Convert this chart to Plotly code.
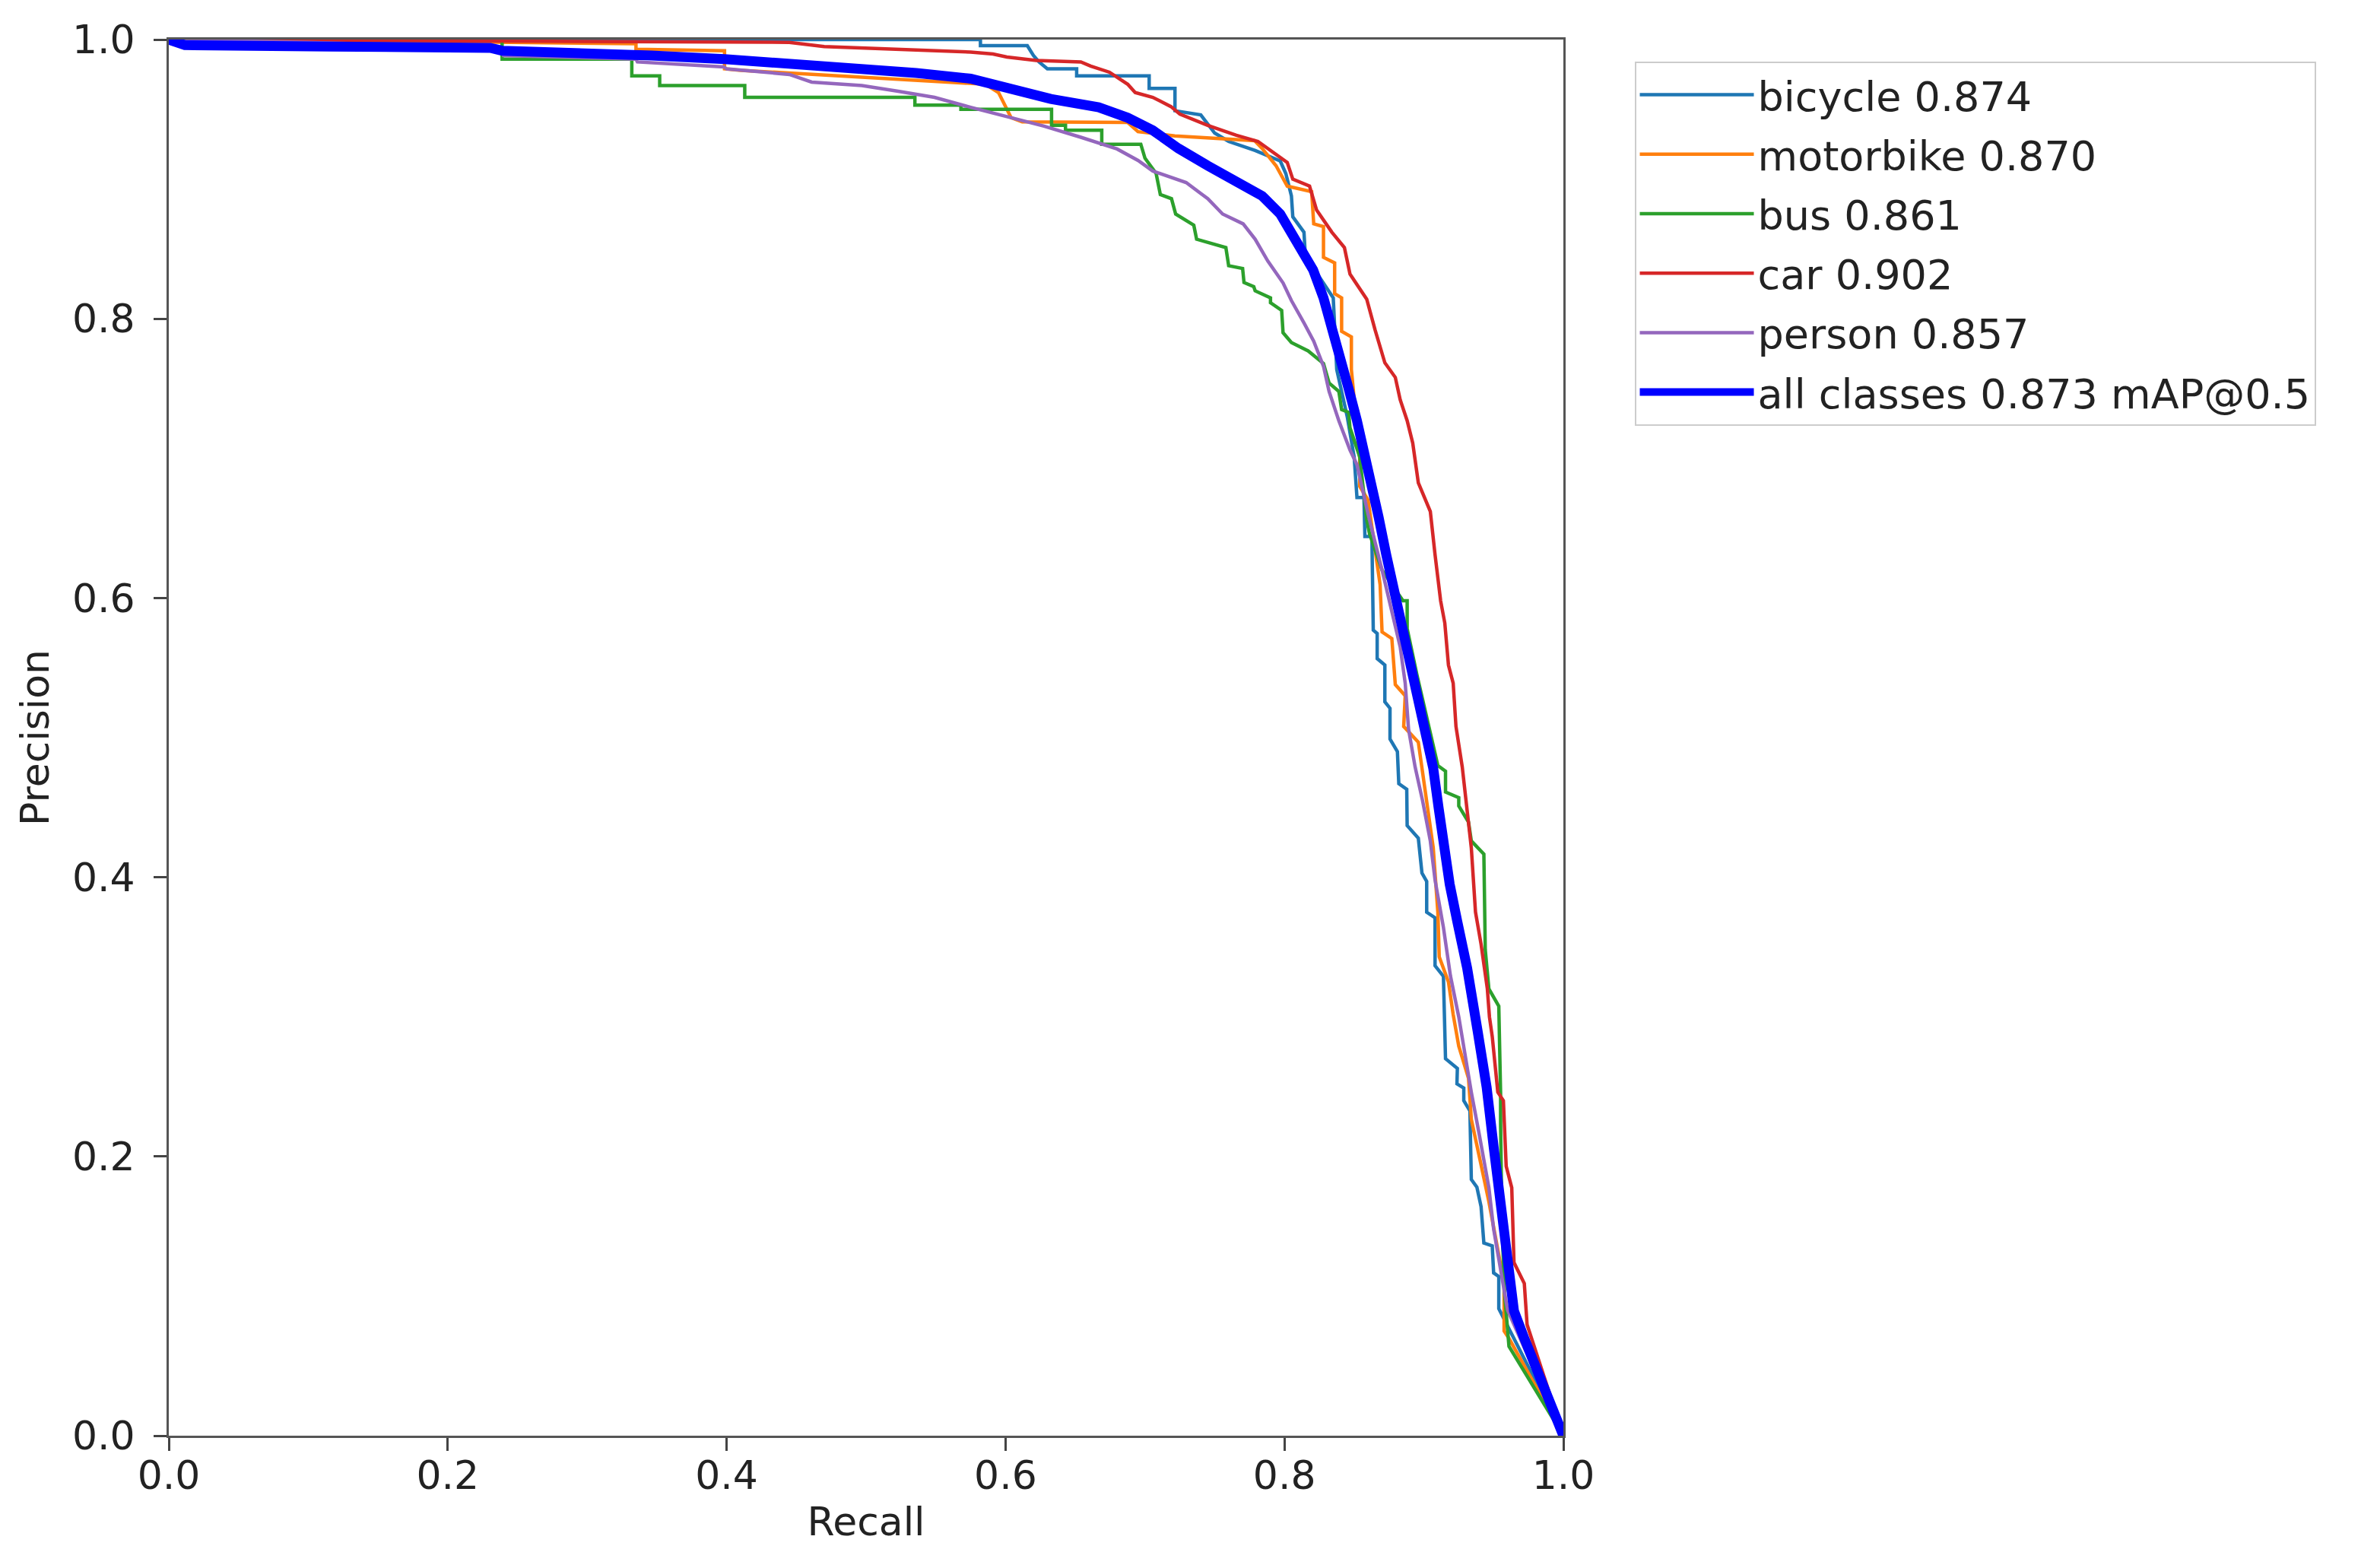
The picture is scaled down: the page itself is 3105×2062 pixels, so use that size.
import plotly.graph_objects as go

# ---- data (recall, precision) ----
bicycle_r = [0.0, 0.582, 0.582, 0.6156, 0.62, 0.624, 0.63, 0.651, 0.651, 0.703, 0.703, 0.7215, 0.7215, 0.740, 0.750, 0.760,
             0.779, 0.797, 0.801, 0.805, 0.806, 0.814, 0.815, 0.825, 0.835, 0.8375, 0.845, 0.850, 0.852, 0.857, 0.8577,
             0.8627, 0.8637, 0.8665, 0.8665, 0.872, 0.872, 0.8757, 0.8757, 0.881, 0.882, 0.8877, 0.888, 0.896, 0.8986,
             0.902, 0.902, 0.908, 0.908, 0.914, 0.9155, 0.924, 0.9237, 0.9286, 0.9286, 0.933, 0.934, 0.938, 0.941, 0.943,
             0.949, 0.950, 0.9537, 0.9537, 1.0]
bicycle_p = [1.0, 1.0, 0.9956, 0.9956, 0.9886, 0.984, 0.979, 0.979, 0.974, 0.974, 0.965, 0.965, 0.949, 0.946, 0.933, 0.927,
             0.9205, 0.913, 0.904, 0.888, 0.873, 0.862, 0.845, 0.830, 0.815, 0.7636, 0.730, 0.701, 0.672, 0.672, 0.644,
             0.644, 0.577, 0.5746, 0.5566, 0.552, 0.5256, 0.521, 0.499, 0.490, 0.467, 0.463, 0.437, 0.428, 0.403,
             0.397, 0.375, 0.371, 0.3366, 0.329, 0.270, 0.263, 0.252, 0.249, 0.240, 0.2326, 0.1835, 0.178, 0.164, 0.138,
             0.136, 0.1166, 0.114, 0.091, 0.0]

motorbike_r = [0.0, 0.15, 0.335, 0.335, 0.3985, 0.3985, 0.41, 0.557, 0.5856, 0.595, 0.600, 0.604, 0.612, 0.6876, 0.695,
               0.7214, 0.7786, 0.784, 0.794, 0.802, 0.8195, 0.821, 0.828, 0.828, 0.836, 0.836, 0.841, 0.841, 0.848, 0.848,
               0.854, 0.854, 0.860, 0.8686, 0.870, 0.877, 0.8795, 0.8866, 0.8855, 0.896, 0.9067, 0.910, 0.911, 0.9176,
               0.921, 0.925, 0.932, 0.934, 0.9395, 0.9466, 0.9575, 0.9575, 0.961, 1.0]
motorbike_p = [1.0, 0.999, 0.997, 0.993, 0.992, 0.979, 0.978, 0.9695, 0.968, 0.962, 0.9515, 0.944, 0.941, 0.9406, 0.934,
               0.931, 0.9276, 0.922, 0.9096, 0.895, 0.891, 0.868, 0.866, 0.844, 0.840, 0.818, 0.815, 0.791, 0.787, 0.7636,
               0.700, 0.680, 0.670, 0.6095, 0.5757, 0.571, 0.538, 0.530, 0.508, 0.4967, 0.421, 0.375, 0.343, 0.325,
               0.3017, 0.279, 0.256, 0.2266, 0.201, 0.1676, 0.109, 0.075, 0.0697, 0.0]

bus_r = [0.0, 0.239, 0.239, 0.332, 0.332, 0.352, 0.352, 0.413, 0.413, 0.535, 0.535, 0.568, 0.568, 0.633, 0.633, 0.643,
         0.643, 0.669, 0.669, 0.697, 0.700, 0.708, 0.711, 0.719, 0.722, 0.735, 0.737, 0.758, 0.760, 0.770, 0.771, 0.778,
         0.779, 0.790, 0.790, 0.798, 0.799, 0.805, 0.817, 0.828, 0.832, 0.839, 0.841, 0.846, 0.847, 0.854, 0.859, 0.861,
         0.870, 0.885, 0.888, 0.888, 0.895, 0.903, 0.910, 0.9155, 0.9155, 0.925, 0.925, 0.932, 0.934, 0.943, 0.944,
         0.9466, 0.9537, 0.955, 0.955, 0.956, 0.958, 0.961, 1.0]
bus_p = [1.0, 1.0, 0.986, 0.986, 0.974, 0.974, 0.967, 0.967, 0.9586, 0.9586, 0.953, 0.953, 0.950, 0.950, 0.9386, 0.9386,
         0.935, 0.935, 0.925, 0.925, 0.915, 0.904, 0.889, 0.886, 0.875, 0.867, 0.857, 0.851, 0.838, 0.836, 0.826, 0.823,
         0.820, 0.815, 0.8115, 0.806, 0.790, 0.783, 0.777, 0.768, 0.754, 0.748, 0.735, 0.733, 0.722, 0.701, 0.656, 0.646,
         0.620, 0.598, 0.598, 0.578, 0.545, 0.510, 0.480, 0.476, 0.461, 0.457, 0.451, 0.4395, 0.426, 0.4166, 0.348,
         0.320, 0.3077, 0.245, 0.223, 0.150, 0.100, 0.064, 0.0]

car_r = [0.0, 0.268, 0.445, 0.47, 0.523, 0.575, 0.591, 0.601, 0.622, 0.654, 0.661, 0.6745, 0.6876, 0.693, 0.7056, 0.7186,
         0.725, 0.745, 0.7655, 0.781, 0.802, 0.806, 0.818, 0.823, 0.834, 0.843, 0.847, 0.859, 0.865, 0.872, 0.8795,
         0.883, 0.888, 0.892, 0.896, 0.9046, 0.908, 0.912, 0.915, 0.9176, 0.921, 0.923, 0.9275, 0.931, 0.934, 0.937,
         0.941, 0.9455, 0.947, 0.949, 0.953, 0.957, 0.959, 0.963, 0.9646, 0.972, 0.974, 1.0]
car_p = [1.0, 0.999, 0.998, 0.995, 0.993, 0.991, 0.9896, 0.9875, 0.985, 0.984, 0.981, 0.9766, 0.968, 0.962, 0.9586, 0.952,
         0.9466, 0.9385, 0.9314, 0.927, 0.912, 0.900, 0.895, 0.878, 0.862, 0.851, 0.832, 0.814, 0.792, 0.7685, 0.758,
         0.742, 0.727, 0.711, 0.6825, 0.662, 0.631, 0.598, 0.582, 0.552, 0.539, 0.508, 0.479, 0.449, 0.421, 0.375,
         0.352, 0.320, 0.300, 0.286, 0.246, 0.240, 0.193, 0.1776, 0.124, 0.109, 0.0795, 0.0]

person_r = [0.0, 0.05, 0.1, 0.2025, 0.239, 0.24, 0.335, 0.336, 0.398, 0.40, 0.445, 0.461, 0.497, 0.523, 0.549, 0.575,
            0.601, 0.6276, 0.654, 0.680, 0.695, 0.7056, 0.7295, 0.745, 0.7557, 0.7704, 0.779, 0.788, 0.799, 0.805,
            0.814, 0.821, 0.828, 0.832, 0.839, 0.847, 0.852, 0.860, 0.870, 0.877, 0.883, 0.8866, 0.889, 0.8937, 0.899,
            0.9046, 0.908, 0.914, 0.919, 0.925, 0.934, 0.9395, 0.9466, 0.950, 0.960, 1.0]
person_p = [1.0, 0.999, 0.998, 0.995, 0.991, 0.9886, 0.986, 0.984, 0.9804, 0.979, 0.975, 0.9695, 0.967, 0.963, 0.9586, 0.9515,
            0.945, 0.938, 0.930, 0.9216, 0.9134, 0.9058, 0.8976, 0.886, 0.875, 0.868, 0.857, 0.8415, 0.8257, 0.813,
            0.797, 0.784, 0.766, 0.748, 0.727, 0.706, 0.6955, 0.660, 0.620, 0.590, 0.565, 0.539, 0.506, 0.479, 0.455,
            0.426, 0.398, 0.364, 0.3295, 0.300, 0.246, 0.2168, 0.1776, 0.148, 0.090, 0.0]

all_r = [0.0, 0.0115, 0.1156, 0.2306, 0.239, 0.332, 0.346, 0.3985, 0.4525, 0.510, 0.536, 0.575, 0.591, 0.612, 0.6325,
         0.6668, 0.6876, 0.7056, 0.724, 0.745, 0.7634, 0.784, 0.797, 0.805, 0.813, 0.8206, 0.828, 0.834, 0.840, 0.846,
         0.852, 0.8575, 0.8625, 0.8675, 0.873, 0.8795, 0.8866, 0.8937, 0.901, 0.9067, 0.9105, 0.914, 0.9185, 0.924,
         0.931, 0.9385, 0.945, 0.950, 0.955, 0.959, 0.9646, 0.972, 1.0]
all_p = [1.0, 0.996, 0.995, 0.994, 0.992, 0.990, 0.9886, 0.986, 0.982, 0.979, 0.976, 0.972, 0.968, 0.963, 0.9575,
         0.9515, 0.944, 0.935, 0.922, 0.9096, 0.900, 0.888, 0.875, 0.8606, 0.848, 0.835, 0.815, 0.795, 0.772, 0.750,
         0.727, 0.705, 0.683, 0.658, 0.631, 0.602, 0.566, 0.534, 0.503, 0.478, 0.450, 0.421, 0.395, 0.368,
         0.335, 0.290, 0.2495, 0.207, 0.164, 0.123, 0.0893, 0.0697, 0.0]

class_names = ["bicycle 0.874", "motorbike 0.870", "bus 0.861", "car 0.902", "person 0.857"]
all_name = "all classes 0.873 mAP@0.5"
tick_vals = [0.0, 0.2, 0.4, 0.6, 0.8, 1.0]
tick_text = ["0.0", "0.2", "0.4", "0.6", "0.8", "1.0"]

colors = ["#1f77b4", "#ff7f0e", "#2ca02c", "#d62728", "#9467bd"]
series = [(bicycle_r, bicycle_p), (motorbike_r, motorbike_p), (bus_r, bus_p), (car_r, car_p), (person_r, person_p)]

FONT = "DejaVu Sans"
fig = go.Figure()
for (r, p), name, c in zip(series, class_names, colors):
    fig.add_trace(go.Scatter(x=r, y=p, mode="lines", name=name, legendgroup=name,
                             line=dict(color=c, width=4.5)))
fig.add_trace(go.Scatter(x=all_r, y=all_p, mode="lines", name=all_name, legendgroup=all_name,
                         line=dict(color="#0000ff", width=13)))

axis_common = dict(range=[0, 1], tickvals=tick_vals, ticktext=tick_text, ticks="outside",
                   ticklen=17, tickwidth=3, tickcolor="#444", showgrid=False, zeroline=False,
                   showline=True, linecolor="#555", linewidth=3, mirror=True,
                   tickfont=dict(family=FONT, size=52, color="#222"))
fig.update_xaxes(**axis_common, ticklabelstandoff=-12,
                 title=dict(text="Recall", font=dict(family=FONT, size=52, color="#222"), standoff=14))
fig.update_yaxes(**axis_common, ticklabelstandoff=14,
                 title=dict(text="Precision", font=dict(family=FONT, size=52, color="#222"), standoff=14))

fig.update_layout(
    width=3105, height=2062,
    margin=dict(l=214, r=1057, t=44, b=182, autoexpand=False),
    paper_bgcolor="white", plot_bgcolor="white",
    font=dict(family=FONT, color="#222"),
    legend=dict(x=1.051, y=0.9842, xanchor="left", yanchor="top",
                bgcolor="white", bordercolor="#cccccc", borderwidth=2, tracegroupgap=5,
                font=dict(family=FONT, size=54, color="#222"), itemwidth=150),
)
fig.write_html("out.html")
